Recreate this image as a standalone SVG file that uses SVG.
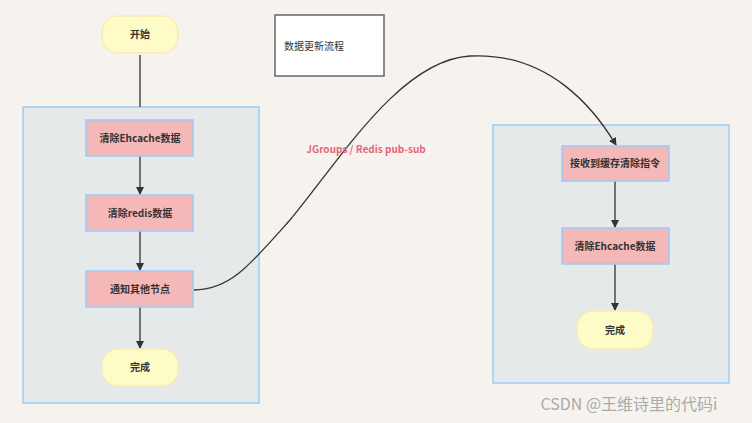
<svg xmlns="http://www.w3.org/2000/svg" width="752" height="423" viewBox="0 0 752 423">
<defs>
<style>
.c{fill:#e5e9ea;stroke:#9ccbf5;stroke-width:1.5}
.p{fill:#f5b8b8;stroke:#9ccbf5;stroke-width:1.5}
.t{fill:#fefcc6;stroke:#fce9b8;stroke-width:1.5}
.l{stroke:#333;stroke-width:1.3;fill:none}
text{font-family:"Noto Sans CJK SC","Liberation Sans",sans-serif;font-size:10px;fill:#333;text-anchor:middle;font-weight:bold}
</style>
<marker id="a" markerWidth="8" markerHeight="8" refX="7" refY="4" orient="auto" markerUnits="userSpaceOnUse"><path d="M0,0L8,4L0,8z" fill="#333"/></marker>
</defs>
<rect width="752" height="423" fill="#f6f3ee"/>
<g id="left-group"><rect class="c" x="23" y="107" width="236" height="296"/></g>
<g id="right-group"><rect class="c" x="493" y="125" width="236" height="258"/></g>
<g id="title"><rect x="275" y="15" width="109" height="61" fill="#fff" stroke="#666" stroke-width="1.5"/><text x="284" y="50" style="text-anchor:start;font-weight:normal">数据更新流程</text></g>
<g id="connectors">
<line class="l" x1="140" y1="55" x2="140" y2="107"/>
<line class="l" x1="140" y1="156" x2="140" y2="194" marker-end="url(#a)"/>
<line class="l" x1="140" y1="231" x2="140" y2="270" marker-end="url(#a)"/>
<line class="l" x1="140" y1="307" x2="140" y2="348" marker-end="url(#a)"/>
<line class="l" x1="615" y1="181" x2="615" y2="227" marker-end="url(#a)"/>
<line class="l" x1="615" y1="264" x2="615" y2="310" marker-end="url(#a)"/>
<path class="l" d="M194,290 C230,290 250,265 290,220 C340,160 400,60 470,56 C550,52 595,110 616,145" marker-end="url(#a)"/>
<text x="366" y="153" style="fill:#e8647a;font-size:10px">JGroups / Redis pub-sub</text>
</g>
<g id="start"><rect class="t" x="102" y="16" width="76" height="37" rx="16"/><text x="140" y="38">开始</text></g>
<g id="n1"><rect class="p" x="86" y="120" width="107" height="36"/><text x="140" y="142">清除Ehcache数据</text></g>
<g id="n2"><rect class="p" x="86" y="195" width="107" height="36"/><text x="140" y="217">清除redis数据</text></g>
<g id="n3"><rect class="p" x="86" y="271" width="107" height="36"/><text x="140" y="293">通知其他节点</text></g>
<g id="end1"><rect class="t" x="102" y="349" width="76" height="37" rx="16"/><text x="140" y="371">完成</text></g>
<g id="r1"><rect class="p" x="562" y="146" width="107" height="35"/><text x="615" y="167">接收到缓存清除指令</text></g>
<g id="r2"><rect class="p" x="562" y="228" width="107" height="36"/><text x="615" y="250">清除Ehcache数据</text></g>
<g id="end2"><rect class="t" x="577" y="311" width="76" height="38" rx="16"/><text x="615" y="334">完成</text></g>
<text x="629" y="410" style="font-size:16px;font-weight:normal;fill:#aaa">CSDN @王维诗里的代码i</text>
</svg>
